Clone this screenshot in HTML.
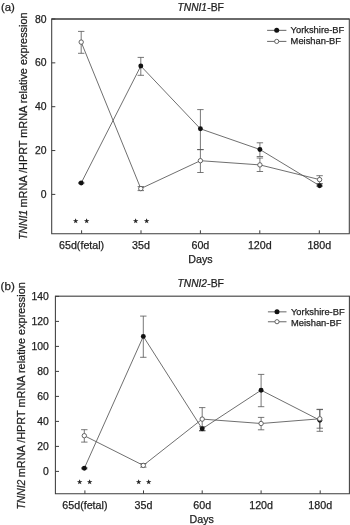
<!DOCTYPE html>
<html lang="en">
<head>
<meta charset="utf-8">
<title>TNNI1 and TNNI2 mRNA relative expression</title>
<style>
html,body{margin:0;padding:0;background:#fff;}
body{width:350px;height:525px;overflow:hidden;}
svg{display:block;}
svg text{font-family:'Liberation Sans', Arial, Helvetica, sans-serif;fill:#1e1e1e;stroke:#1e1e1e;stroke-width:0.25px;}
</style>
</head>
<body>
<svg width="350" height="525" viewBox="0 0 350 525">
<rect width="350" height="525" fill="#fff"/>
<g id="panel-a">
<polyline fill="none" stroke="#555" stroke-width="0.85" points="81.2,183 140.8,66 200.4,128.8 259.9,149.5 319.6,185.7"/>
<polyline fill="none" stroke="#555" stroke-width="0.85" points="81.2,42.1 140.8,188.6 200.4,160.7 259.9,164.9 319.6,179.6"/>
<path fill="none" stroke="#555" stroke-width="0.8" d="M81.2 182.4V183.6M78 182.4H84.4M78 183.6H84.4"/>
<path fill="none" stroke="#555" stroke-width="0.8" d="M140.8 57.4V75.3M137.6 57.4H144M137.6 75.3H144"/>
<path fill="none" stroke="#555" stroke-width="0.8" d="M200.4 109.6V149.7M197.2 109.6H203.6M197.2 149.7H203.6"/>
<path fill="none" stroke="#555" stroke-width="0.8" d="M259.9 142.8V156.5M256.7 142.8H263.1M256.7 156.5H263.1"/>
<path fill="none" stroke="#555" stroke-width="0.8" d="M319.6 185.1V186.3M316.4 185.1H322.8M316.4 186.3H322.8"/>
<path fill="none" stroke="#555" stroke-width="0.8" d="M81.2 31.4V53.3M78 31.4H84.4M78 53.3H84.4"/>
<path fill="none" stroke="#555" stroke-width="0.8" d="M140.8 186.6V190.6M137.6 186.6H144M137.6 190.6H144"/>
<path fill="none" stroke="#555" stroke-width="0.8" d="M200.4 149.5V172.5M197.2 149.5H203.6M197.2 172.5H203.6"/>
<path fill="none" stroke="#555" stroke-width="0.8" d="M259.9 158V171.5M256.7 158H263.1M256.7 171.5H263.1"/>
<path fill="none" stroke="#555" stroke-width="0.8" d="M319.6 175.7V183.5M316.4 175.7H322.8M316.4 183.5H322.8"/>
<circle cx="81.2" cy="183" r="2.45" fill="#111"/>
<circle cx="140.8" cy="66" r="2.45" fill="#111"/>
<circle cx="200.4" cy="128.8" r="2.45" fill="#111"/>
<circle cx="259.9" cy="149.5" r="2.45" fill="#111"/>
<circle cx="319.6" cy="185.7" r="2.45" fill="#111"/>
<circle cx="81.2" cy="42.1" r="2.2" fill="#fff" stroke="#555" stroke-width="0.9"/>
<circle cx="140.8" cy="188.6" r="2.2" fill="#fff" stroke="#555" stroke-width="0.9"/>
<circle cx="200.4" cy="160.7" r="2.2" fill="#fff" stroke="#555" stroke-width="0.9"/>
<circle cx="259.9" cy="164.9" r="2.2" fill="#fff" stroke="#555" stroke-width="0.9"/>
<circle cx="319.6" cy="179.6" r="2.2" fill="#fff" stroke="#555" stroke-width="0.9"/>
<path fill="none" stroke="#383838" stroke-width="1.6" d="M51.7 19H349.3"/>
<path fill="none" stroke="#3d3d3d" stroke-width="1.05" stroke-linejoin="miter" d="M51.7 18.5V233.7H349.3V18.5"/>
<path stroke="#3d3d3d" stroke-width="1" d="M51.7 19h3.6"/>
<text x="46.5" y="22.5" text-anchor="end" font-size="10.4">80</text>
<path stroke="#3d3d3d" stroke-width="1" d="M51.7 62.85h3.6"/>
<text x="46.5" y="66.35" text-anchor="end" font-size="10.4">60</text>
<path stroke="#3d3d3d" stroke-width="1" d="M51.7 106.7h3.6"/>
<text x="46.5" y="110.2" text-anchor="end" font-size="10.4">40</text>
<path stroke="#3d3d3d" stroke-width="1" d="M51.7 150.55h3.6"/>
<text x="46.5" y="154.05" text-anchor="end" font-size="10.4">20</text>
<path stroke="#3d3d3d" stroke-width="1" d="M51.7 194.4h3.6"/>
<text x="46.5" y="197.9" text-anchor="end" font-size="10.4">0</text>
<path stroke="#3d3d3d" stroke-width="1" d="M81.6 233.7v-3.4"/>
<text x="81.6" y="248.8" text-anchor="middle" font-size="10.7">65d(fetal)</text>
<path stroke="#3d3d3d" stroke-width="1" d="M141 233.7v-3.4"/>
<text x="141" y="248.8" text-anchor="middle" font-size="10.7">35d</text>
<path stroke="#3d3d3d" stroke-width="1" d="M200.4 233.7v-3.4"/>
<text x="200.4" y="248.8" text-anchor="middle" font-size="10.7">60d</text>
<path stroke="#3d3d3d" stroke-width="1" d="M259.8 233.7v-3.4"/>
<text x="259.8" y="248.8" text-anchor="middle" font-size="10.7">120d</text>
<path stroke="#3d3d3d" stroke-width="1" d="M319.3 233.7v-3.4"/>
<text x="319.3" y="248.8" text-anchor="middle" font-size="10.7">180d</text>
<text x="200.4" y="262.8" text-anchor="middle" font-size="10.7">Days</text>
<text x="75.6" y="222.5" text-anchor="middle" font-size="6.1" font-family="DejaVu Sans, sans-serif">★</text>
<text x="86.6" y="222.5" text-anchor="middle" font-size="6.1" font-family="DejaVu Sans, sans-serif">★</text>
<text x="135" y="222.5" text-anchor="middle" font-size="6.1" font-family="DejaVu Sans, sans-serif">★</text>
<text x="146.6" y="222.5" text-anchor="middle" font-size="6.1" font-family="DejaVu Sans, sans-serif">★</text>
<text transform="translate(207 10.7) scale(0.98 1)" text-anchor="end" font-style="italic" font-size="10.4">TNNI1</text>
<text x="207.2" y="10.7" font-size="10.4">-BF</text>
<text x="0.9" y="11" font-size="11.4">(a)</text>
<text transform="translate(27.1 239.8) rotate(-90) scale(0.95 1)" font-style="italic" font-size="10.9">TNNI1</text>
<text transform="translate(27.1 207.5) rotate(-90)" font-size="10.9">mRNA /HPRT mRNA relative expression</text>
<path stroke="#555" stroke-width="0.9" d="M267.1 30.35H286.4"/>
<circle cx="276.7" cy="30.35" r="2.5" fill="#111"/>
<text x="290.6" y="33.1" font-size="9.35">Yorkshire-BF</text>
<path stroke="#555" stroke-width="0.9" d="M267.1 41.4H286.4"/>
<circle cx="276.7" cy="41.4" r="2.1" fill="#fff" stroke="#555" stroke-width="0.9"/>
<text x="290.6" y="44.3" font-size="9.35">Meishan-BF</text>
</g>
<g id="panel-b">
<polyline fill="none" stroke="#555" stroke-width="0.85" points="84.3,468.3 143.3,336.4 202.2,428.8 261.1,390.2 319.8,420.2"/>
<polyline fill="none" stroke="#555" stroke-width="0.85" points="84.3,435.7 143.3,465.4 202.2,419.1 261.1,423.5 319.8,418.8"/>
<path fill="none" stroke="#555" stroke-width="0.8" d="M84.3 467.7V468.9M81.1 467.7H87.5M81.1 468.9H87.5"/>
<path fill="none" stroke="#555" stroke-width="0.8" d="M143.3 316.1V357.3M140.1 316.1H146.5M140.1 357.3H146.5"/>
<path fill="none" stroke="#555" stroke-width="0.8" d="M202.2 426.8V430.8M199 426.8H205.4M199 430.8H205.4"/>
<path fill="none" stroke="#555" stroke-width="0.8" d="M261.1 374.4V406.7M257.9 374.4H264.3M257.9 406.7H264.3"/>
<path fill="none" stroke="#555" stroke-width="0.8" d="M319.8 409.3V431.3M316.6 409.3H323M316.6 431.3H323"/>
<path fill="none" stroke="#555" stroke-width="0.8" d="M84.3 429.7V442.1M81.1 429.7H87.5M81.1 442.1H87.5"/>
<path fill="none" stroke="#555" stroke-width="0.8" d="M143.3 463.6V467.2M140.1 463.6H146.5M140.1 467.2H146.5"/>
<path fill="none" stroke="#555" stroke-width="0.8" d="M202.2 407.6V430.6M199 407.6H205.4M199 430.6H205.4"/>
<path fill="none" stroke="#555" stroke-width="0.8" d="M261.1 417.4V429.8M257.9 417.4H264.3M257.9 429.8H264.3"/>
<path fill="none" stroke="#555" stroke-width="0.8" d="M319.8 409.6V428.2M316.6 409.6H323M316.6 428.2H323"/>
<circle cx="84.3" cy="468.3" r="2.45" fill="#111"/>
<circle cx="143.3" cy="336.4" r="2.45" fill="#111"/>
<circle cx="202.2" cy="428.8" r="2.45" fill="#111"/>
<circle cx="261.1" cy="390.2" r="2.45" fill="#111"/>
<circle cx="319.8" cy="420.2" r="2.45" fill="#111"/>
<circle cx="84.3" cy="435.7" r="2.2" fill="#fff" stroke="#555" stroke-width="0.9"/>
<circle cx="143.3" cy="465.4" r="2.2" fill="#fff" stroke="#555" stroke-width="0.9"/>
<circle cx="202.2" cy="419.1" r="2.2" fill="#fff" stroke="#555" stroke-width="0.9"/>
<circle cx="261.1" cy="423.5" r="2.2" fill="#fff" stroke="#555" stroke-width="0.9"/>
<circle cx="319.8" cy="418.8" r="2.2" fill="#fff" stroke="#555" stroke-width="0.9"/>
<path fill="none" stroke="#707070" stroke-width="1.4" d="M55.4 296.2H349.4"/>
<path fill="none" stroke="#3d3d3d" stroke-width="1.05" stroke-linejoin="miter" d="M55.4 295.7V493.8H349.4V295.7"/>
<path stroke="#3d3d3d" stroke-width="1" d="M55.4 296.4h3.6"/>
<text x="48.9" y="299.9" text-anchor="end" font-size="10.4">140</text>
<path stroke="#3d3d3d" stroke-width="1" d="M55.4 321.4h3.6"/>
<text x="48.9" y="324.9" text-anchor="end" font-size="10.4">120</text>
<path stroke="#3d3d3d" stroke-width="1" d="M55.4 346.4h3.6"/>
<text x="48.9" y="349.9" text-anchor="end" font-size="10.4">100</text>
<path stroke="#3d3d3d" stroke-width="1" d="M55.4 371.4h3.6"/>
<text x="48.9" y="374.9" text-anchor="end" font-size="10.4">80</text>
<path stroke="#3d3d3d" stroke-width="1" d="M55.4 396.4h3.6"/>
<text x="48.9" y="399.9" text-anchor="end" font-size="10.4">60</text>
<path stroke="#3d3d3d" stroke-width="1" d="M55.4 421.4h3.6"/>
<text x="48.9" y="424.9" text-anchor="end" font-size="10.4">40</text>
<path stroke="#3d3d3d" stroke-width="1" d="M55.4 446.4h3.6"/>
<text x="48.9" y="449.9" text-anchor="end" font-size="10.4">20</text>
<path stroke="#3d3d3d" stroke-width="1" d="M55.4 471.4h3.6"/>
<text x="48.9" y="474.9" text-anchor="end" font-size="10.4">0</text>
<path stroke="#3d3d3d" stroke-width="1" d="M84.9 493.8v-3.4"/>
<text x="84.9" y="508.9" text-anchor="middle" font-size="10.7">65d(fetal)</text>
<path stroke="#3d3d3d" stroke-width="1" d="M143.5 493.8v-3.4"/>
<text x="143.5" y="508.9" text-anchor="middle" font-size="10.7">35d</text>
<path stroke="#3d3d3d" stroke-width="1" d="M202.2 493.8v-3.4"/>
<text x="202.2" y="508.9" text-anchor="middle" font-size="10.7">60d</text>
<path stroke="#3d3d3d" stroke-width="1" d="M261.1 493.8v-3.4"/>
<text x="261.1" y="508.9" text-anchor="middle" font-size="10.7">120d</text>
<path stroke="#3d3d3d" stroke-width="1" d="M320.2 493.8v-3.4"/>
<text x="320.2" y="508.9" text-anchor="middle" font-size="10.7">180d</text>
<text x="201.8" y="522.5" text-anchor="middle" font-size="10.7">Days</text>
<text x="79.1" y="484.3" text-anchor="middle" font-size="6.1" font-family="DejaVu Sans, sans-serif">★</text>
<text x="89.3" y="484.3" text-anchor="middle" font-size="6.1" font-family="DejaVu Sans, sans-serif">★</text>
<text x="138.4" y="484.3" text-anchor="middle" font-size="6.1" font-family="DejaVu Sans, sans-serif">★</text>
<text x="148.7" y="484.3" text-anchor="middle" font-size="6.1" font-family="DejaVu Sans, sans-serif">★</text>
<text transform="translate(207 287.2) scale(0.98 1)" text-anchor="end" font-style="italic" font-size="10.4">TNNI2</text>
<text x="207.2" y="287.2" font-size="10.4">-BF</text>
<text x="0.6" y="289.5" font-size="11.6">(b)</text>
<text transform="translate(25.2 509.6) rotate(-90) scale(0.95 1)" font-style="italic" font-size="10.9">TNNI2</text>
<text transform="translate(25.2 477.3) rotate(-90)" font-size="10.9">mRNA /HPRT mRNA relative expression</text>
<path stroke="#8a8a8a" stroke-width="1.3" d="M267.9 311.8H286.5"/>
<circle cx="277" cy="311.8" r="2.5" fill="#111"/>
<text x="291" y="314.9" font-size="9.35">Yorkshire-BF</text>
<path stroke="#8a8a8a" stroke-width="1.3" d="M267.9 321.7H286.5"/>
<circle cx="277" cy="321.7" r="2.1" fill="#fff" stroke="#555" stroke-width="0.9"/>
<text x="291" y="325.5" font-size="9.35">Meishan-BF</text>
</g>
</svg>
</body>
</html>
